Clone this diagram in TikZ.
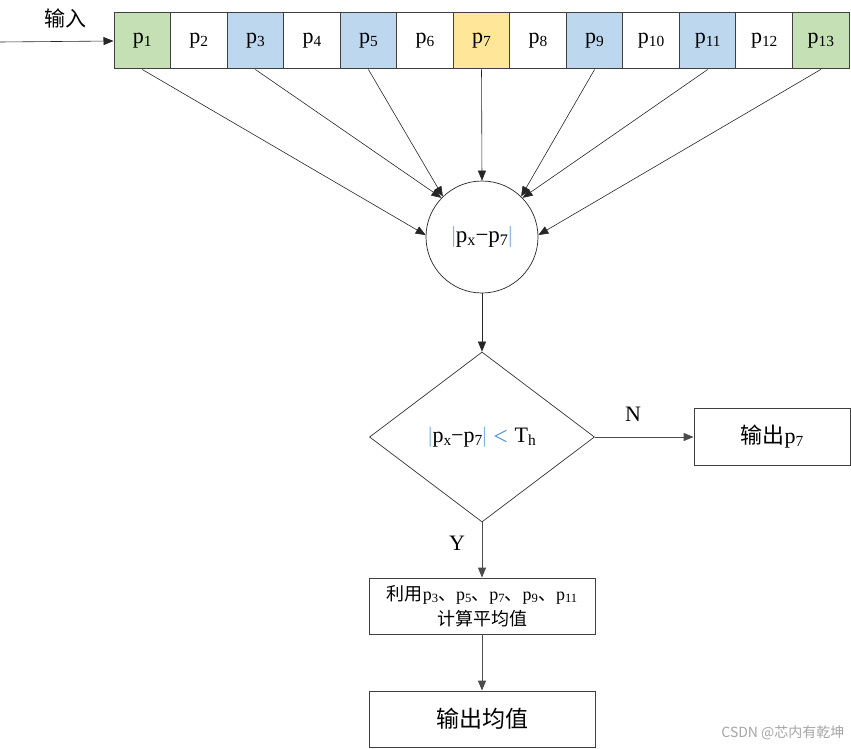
\documentclass[tikz,border=0pt]{standalone}
\usepackage{fontspec}
\usepackage{graphicx}
\setmainfont{Liberation Serif}
\newfontfamily\cjk{Noto Sans CJK SC}
\usetikzlibrary{arrows.meta,shapes.geometric}
\definecolor{cg}{HTML}{C5E0B4}
\definecolor{cb}{HTML}{BDD7EE}
\definecolor{cy}{HTML}{FFE699}
\definecolor{barblue}{HTML}{7FB5E6}
\definecolor{ltblue}{HTML}{4A8FD8}
\newcommand\lo[1]{\raisebox{-0.3ex}{\scalebox{0.7}{#1}}}
\newcommand\vbar{{\color{barblue}|}}
\begin{document}
\begin{tikzpicture}[x=1pt,y=-1pt,
  cell/.style={draw=black!75,line width=1pt,minimum width=56.54pt,minimum height=56pt,inner sep=0pt,font=\fontsize{22}{24}\selectfont},
  arr/.style={-{Triangle[length=10pt,width=8pt]},line width=0.6pt,draw=black!85},
  garr/.style={-{Triangle[length=10pt,width=8pt]},line width=1pt,draw=black!70},
  box/.style={draw=black!75,line width=0.8pt,inner sep=0pt},
  lbl/.style={font=\fontsize{22}{24}\selectfont}]
\useasboundingbox (0,0) rectangle (851,749);
\fill[white] (0,0) rectangle (851,749);
% cells
\foreach \i/\c in {1/cg,2/white,3/cb,4/white,5/cb,6/white,7/cy,8/white,9/cb,10/white,11/cb,12/white,13/cg}
  \node[cell,fill=\c] (p\i) at ({114+56.54*(\i-0.5)},41) {p\lo{\i}};
% input
\coordinate (in) at (0,42);
\draw[arr] (in) -- (p1.west);
\node[font=\cjk\fontsize{21}{24}\selectfont] (inlbl) at (65,18) {输入};
% circle
\node[circle,draw=black!85,line width=0.7pt,minimum size=112pt,inner sep=0pt,font=\fontsize{23}{26}\selectfont] (c) at (482,237) {\vbar p\lo{x}−p\lo{7}\vbar};
\draw[arr] (p1.south) -- (c.178);
\draw[arr] (p3.south) -- (c.136);
\draw[arr] (p5.south) -- (c.134);
\draw[arr] (p7.south) -- (c.90);
\draw[arr] (p9.south) -- (c.46);
\draw[arr] (p11.south) -- (c.44);
\draw[arr] (p13.south) -- (c.2);
% diamond
\node[diamond,draw=black!80,line width=0.7pt,minimum width=225pt,minimum height=170pt,inner sep=0pt,font=\fontsize{22}{24}\selectfont] (d) at (482,437)
  {\vbar p\lo{x}−p\lo{7}\vbar\hspace{6pt}{\cjk\color{ltblue}\fontsize{16}{18}\selectfont ＜}\hspace{6pt}T\lo{h}};
\draw[arr] (c.south) -- (d.north);
% output p7
\node[box,minimum width=156pt,minimum height=57pt,font=\fontsize{22}{24}\selectfont] (o7) at (772,437) {{\cjk 输出}p\lo{7}};
\draw[garr] (d.east) -- (o7.west);
\node[lbl] (nlbl) at (633,414) {N};
% mean box
\node[box,minimum width=226pt,minimum height=56pt,align=center,font=\fontsize{18}{25}\selectfont] (m) at (482,606)
  {{\cjk 利用}p\lo{3}{\cjk 、}p\lo{5}{\cjk 、}p\lo{7}{\cjk 、}p\lo{9}{\cjk 、}p\lo{11}\\{\cjk 计算平均值}};
\draw[garr] (d.south) -- (m.north);
\node[lbl] (ylbl) at (457,543) {Y};
% output mean
\node[box,minimum width=226pt,minimum height=56pt,font=\cjk\fontsize{23}{26}\selectfont] (om) at (482,719) {输出均值};
\draw[garr] (m.south) -- (om.north);
% watermark
\node[font=\cjk\fontsize{14}{16}\selectfont,text=black!35,anchor=east] (wm) at (848,733) {CSDN @芯内有乾坤};
\end{tikzpicture}
\end{document}
